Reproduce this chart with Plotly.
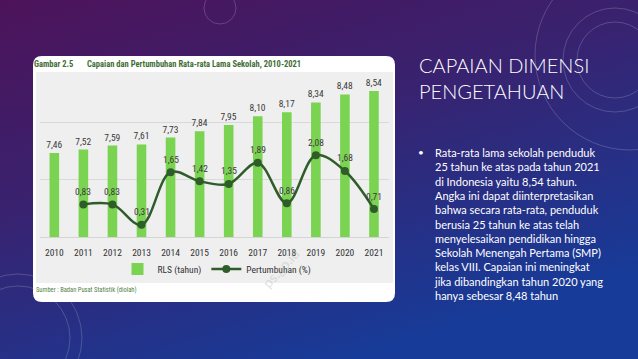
import base64
import plotly.graph_objects as go

# ---------------- data ----------------
years = ["2010", "2011", "2012", "2013", "2014", "2015", "2016", "2017", "2018", "2019", "2020", "2021"]
rls_tahun = [7.46, 7.52, 7.59, 7.61, 7.73, 7.84, 7.95, 8.10, 8.17, 8.34, 8.48, 8.54]
pertumbuhan = [None, 0.83, 0.83, 0.31, 1.65, 1.42, 1.35, 1.89, 0.86, 2.08, 1.68, 0.71]

chart_title = "Capaian dan Pertumbuhan Rata-rata Lama Sekolah, 2010-2021"
figure_no = "Gambar 2.5"
source_note = "Sumber : Badan Pusat Statistik (diolah)"
slide_title = "CAPAIAN DIMENSI<br>PENGETAHUAN"
bullet_lines = [
    "Rata-rata lama sekolah penduduk",
    "25 tahun ke atas pada tahun 2021",
    "di Indonesia yaitu 8,54 tahun.",
    "Angka ini dapat diinterpretasikan",
    "bahwa secara rata-rata, penduduk",
    "berusia 25 tahun ke atas telah",
    "menyelesaikan pendidikan hingga",
    "Sekolah Menengah Pertama (SMP)",
    "kelas VIII. Capaian ini meningkat",
    "jika dibandingkan tahun 2020 yang",
    "hanya sebesar 8,48 tahun",
]

# ---------------- layout helpers ----------------
W, H = 638, 359
def px(x):
    return x / W
def py(y):
    return 1 - y / H

NARROW = "Liberation Sans Narrow, Arial Narrow, Roboto Condensed, DejaVu Sans Condensed, sans-serif"
BAR_GREEN = "#7bd352"
LINE_GREEN = "#2f5d2a"
TITLE_GREEN = "#3f6e35"

def rrect(x0, y0, x1, y1, r):
    rx, ry = r / W, r / H
    X0, X1, Y0, Y1 = px(x0), px(x1), py(y0), py(y1)
    return (f"M {X0+rx},{Y0} L {X1-rx},{Y0} Q {X1},{Y0} {X1},{Y0-ry} "
            f"L {X1},{Y1+ry} Q {X1},{Y1} {X1-rx},{Y1} L {X0+rx},{Y1} "
            f"Q {X0},{Y1} {X0},{Y1+ry} L {X0},{Y0-ry} Q {X0},{Y0} {X0+rx},{Y0} Z")

# background gradient with faint decorative circles
svg = f"""<svg xmlns='http://www.w3.org/2000/svg' width='{W}' height='{H}' viewBox='0 0 {W} {H}' preserveAspectRatio='none'>
<defs><linearGradient id='g' x1='0' y1='0' x2='0.55' y2='1'>
<stop offset='0' stop-color='#4d135a'/><stop offset='0.45' stop-color='#39226f'/><stop offset='1' stop-color='#173b98'/>
</linearGradient></defs>
<rect width='{W}' height='{H}' fill='url(#g)'/>
<g fill='none' stroke='rgba(255,255,255,0.18)' stroke-width='1'>
<circle cx='220' cy='8' r='16'/>
<circle cx='615' cy='60' r='52'/>
<circle cx='615' cy='60' r='38'/>
<circle cx='630' cy='55' r='95'/>
<circle cx='18' cy='338' r='52'/>
<circle cx='18' cy='338' r='64'/>
</g>
</svg>"""
bg_src = "data:image/svg+xml;base64," + base64.b64encode(svg.encode()).decode()

fig = go.Figure()

fig.add_trace(go.Bar(
    x=years, y=rls_tahun, name="RLS (tahun)",
    marker=dict(color=BAR_GREEN, line=dict(width=0)),
    texttemplate="%{y:.2f}", textposition="outside",
    textfont=dict(family=NARROW, size=9.5, color="#3a3a3a"),
    cliponaxis=False, constraintext="none",
))

fig.add_trace(go.Scatter(
    x=years, y=pertumbuhan, name="Pertumbuhan (%)", yaxis="y2",
    mode="lines+markers",
    line=dict(color=LINE_GREEN, width=2.5, shape="spline", smoothing=1.0),
    marker=dict(color=LINE_GREEN, size=8),
    cliponaxis=False,
))

annotations = [
    dict(text=f"<b>{figure_no}</b>", x=px(75), y=py(64), xanchor="right", yanchor="middle",
         font=dict(family=NARROW, size=8.5, color=TITLE_GREEN), xref="paper", yref="paper"),
    dict(text=f"<b>{chart_title}</b>", x=px(85), y=py(64), xanchor="left", yanchor="middle",
         font=dict(family=NARROW, size=8.5, color=TITLE_GREEN), xref="paper", yref="paper"),
    dict(text=source_note, x=px(34), y=py(290), xanchor="left", yanchor="middle",
         font=dict(family=NARROW, size=6.5, color="#4f7f45"), xref="paper", yref="paper"),
    dict(text="ps.go.id", x=px(280), y=py(268), xanchor="center", yanchor="middle", textangle=-48,
         font=dict(family="Lato, sans-serif", size=14, color="rgba(170,170,170,0.35)"),
         xref="paper", yref="paper"),
    dict(text=slide_title, x=px(417), y=py(78), xanchor="left", yanchor="middle", align="left",
         font=dict(family="Lato, sans-serif", size=20, color="white", weight=300),
         xref="paper", yref="paper"),
    dict(text="•", x=px(421), y=py(152), xanchor="center", yanchor="middle",
         font=dict(family="Lato, sans-serif", size=10, color="white"), xref="paper", yref="paper"),
    dict(text="<br>".join(bullet_lines), x=px(432), y=py(224), xanchor="left", yanchor="middle",
         align="left", font=dict(family="Lato, sans-serif", size=11, color="white"),
         xref="paper", yref="paper"),
]
# growth value labels, placed through the data axes (category index on x)
for i, v in enumerate(pertumbuhan):
    if v is None:
        continue
    annotations.append(dict(
        text=f"{v:.2f}".replace(".", ","), x=i, y=v, xref="x", yref="y2",
        yshift=13, xanchor="center", yanchor="middle",
        font=dict(family=NARROW, size=9.5, color="#3a3a3a")))
for a in annotations:
    a.update(showarrow=False)

fig.update_layout(
    width=W, height=H,
    margin=dict(l=0, r=0, t=0, b=0),
    paper_bgcolor="#33236f", plot_bgcolor="rgba(0,0,0,0)",
    separators=",.",
    showlegend=True,
    bargap=0.67,
    images=[dict(source=bg_src, xref="paper", yref="paper", x=0, y=1, sizex=1, sizey=1,
                 sizing="stretch", xanchor="left", yanchor="top", layer="below")],
    shapes=[
        dict(type="path", path=rrect(33, 56, 395, 302, 9), xref="paper", yref="paper",
             fillcolor="white", line=dict(width=0), layer="below"),
        dict(type="rect", x0=px(36), x1=px(393), y0=py(283), y1=py(72), xref="paper", yref="paper",
             fillcolor="#efefef", line=dict(width=0), layer="below"),
    ],
    xaxis=dict(domain=[px(39.8), px(388.5)], type="category",
               categoryorder="array", categoryarray=years,
               range=[-0.5, len(years) - 0.5],
               showgrid=False, showline=True, linecolor="#d4d4d4", linewidth=1,
               ticks="outside", ticklen=7, tickcolor="rgba(0,0,0,0)",
               tickfont=dict(family=NARROW, size=9.5, color="#333333")),
    yaxis=dict(domain=[py(237), py(72)], range=[6, 6 + 165 / 57.5], tick0=6, dtick=1,
               showgrid=True, gridcolor="#d9d9d9", gridwidth=1, zeroline=False,
               showticklabels=False, ticks=""),
    yaxis2=dict(overlaying="y", side="right", range=[0, 165 / 39.3], visible=False,
                showgrid=False, zeroline=False),
    legend=dict(orientation="h", x=px(217), y=py(269), xanchor="center", yanchor="middle",
                bgcolor="rgba(0,0,0,0)", font=dict(family=NARROW, size=9.5, color="#333333"),
                itemwidth=30, traceorder="normal"),
    annotations=annotations,
)

fig.write_html("out.html", config={"displayModeBar": False},
               post_script="document.body.style.margin='0';document.body.style.overflow='hidden';")
